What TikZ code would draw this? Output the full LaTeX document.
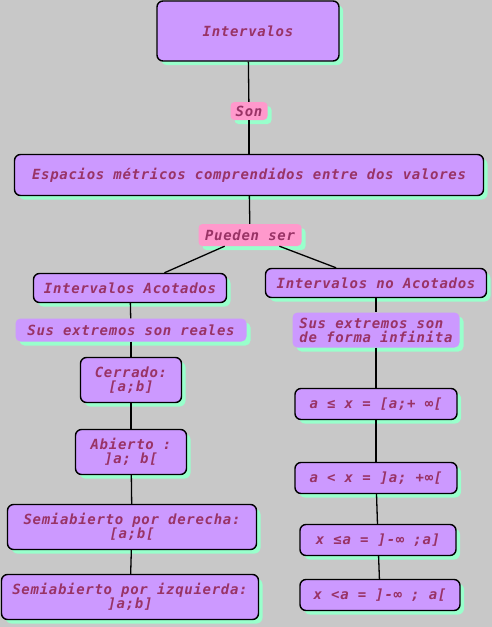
\documentclass[tikz,border=0pt]{standalone}
\usepackage{fontspec}
\newfontfamily\cmapfont{DejaVu Sans Mono}[LetterSpace=5]
\usetikzlibrary{shadows}
\definecolor{fondo}{HTML}{C8C8C8}
\definecolor{lila}{HTML}{CC99FF}
\definecolor{menta}{HTML}{99FFCC}
\definecolor{rosa}{HTML}{FF99CC}
\definecolor{tinta}{HTML}{993366}
\tikzset{
  sombra/.style={drop shadow={fill=menta,opacity=1,shadow xshift=4pt,shadow yshift=-4pt}},
  base/.style={fill=lila,text=tinta,align=center,inner sep=2pt,sombra,
    font=\cmapfont\bfseries\itshape\fontsize{14}{14}\selectfont},
  concepto/.style={base,draw=black,line width=1.4pt,rounded corners=6pt},
  enlace/.style={base,fill=rosa,rounded corners=4pt},
  frase/.style={base,rounded corners=5pt},
  conector/.style={draw=black,line width=1.3pt}
}
\begin{document}
\begin{tikzpicture}[x=1pt,y=-1pt]
  \fill[fondo] (0,0) rectangle (492,627);
  \useasboundingbox (0,0) rectangle (492,627);
  % nivel superior
  \node[concepto,minimum width=182pt,minimum height=60pt] (int) at (248,31) {Intervalos};
  \node[enlace,minimum width=37pt,minimum height=18pt] (son) at (249,111) {Son};
  \node[concepto,minimum width=469pt,minimum height=41pt] (esp) at (249,175) {Espacios métricos comprendidos entre dos valores};
  \node[enlace,minimum width=103pt,minimum height=22pt] (pue) at (250,235) {Pueden ser};
  % rama acotados
  \node[concepto,minimum width=193pt,minimum height=29pt] (aco) at (130,288) {Intervalos Acotados};
  \node[frase,minimum width=231pt,minimum height=23pt] (rea) at (131,330) {Sus extremos son reales};
  \node[concepto,minimum width=101pt,minimum height=45pt] (cer) at (131,380) {Cerrado:\\{}[a;b]};
  \node[concepto,minimum width=111pt,minimum height=45pt] (abi) at (131,452) {Abierto :\\{}]a; b[};
  \node[concepto,minimum width=249pt,minimum height=45pt] (der) at (132,527) {Semiabierto por derecha:\\{}[a;b[};
  \node[concepto,minimum width=257pt,minimum height=45pt] (izq) at (130,597) {Semiabierto por izquierda:\\{}]a;b]};
  % rama no acotados
  \node[concepto,minimum width=221pt,minimum height=29pt] (noa) at (376,283) {Intervalos no Acotados};
  \node[frase,align=left,minimum width=167pt,minimum height=35pt] (inf) at (376,330) {Sus extremos son\\de forma infinita};
  \node[concepto,minimum width=162pt,minimum height=31pt] (r1) at (376,404) {a ≤ x = [a;+ ∞[};
  \node[concepto,minimum width=162pt,minimum height=31pt] (r2) at (376,478) {a < x = ]a; +∞[};
  \node[concepto,minimum width=156pt,minimum height=31pt] (r3) at (378,540) {x ≤a = ]-∞ ;a]};
  \node[concepto,minimum width=160pt,minimum height=31pt] (r4) at (380,595) {x <a = ]-∞ ; a[};
  % conectores
  \draw[conector] (int) -- (son);
  \draw[conector] (son) -- (esp);
  \draw[conector] (esp) -- (pue);
  \draw[conector] (pue) -- (aco);
  \draw[conector] (pue) -- (noa);
  \draw[conector] (aco) -- (rea);
  \draw[conector] (rea) -- (cer);
  \draw[conector] (cer) -- (abi);
  \draw[conector] (abi) -- (der);
  \draw[conector] (der) -- (izq);
  \draw[conector] (noa) -- (inf);
  \draw[conector] (inf) -- (r1);
  \draw[conector] (r1) -- (r2);
  \draw[conector] (r2) -- (r3);
  \draw[conector] (r3) -- (r4);
\end{tikzpicture}
\end{document}
